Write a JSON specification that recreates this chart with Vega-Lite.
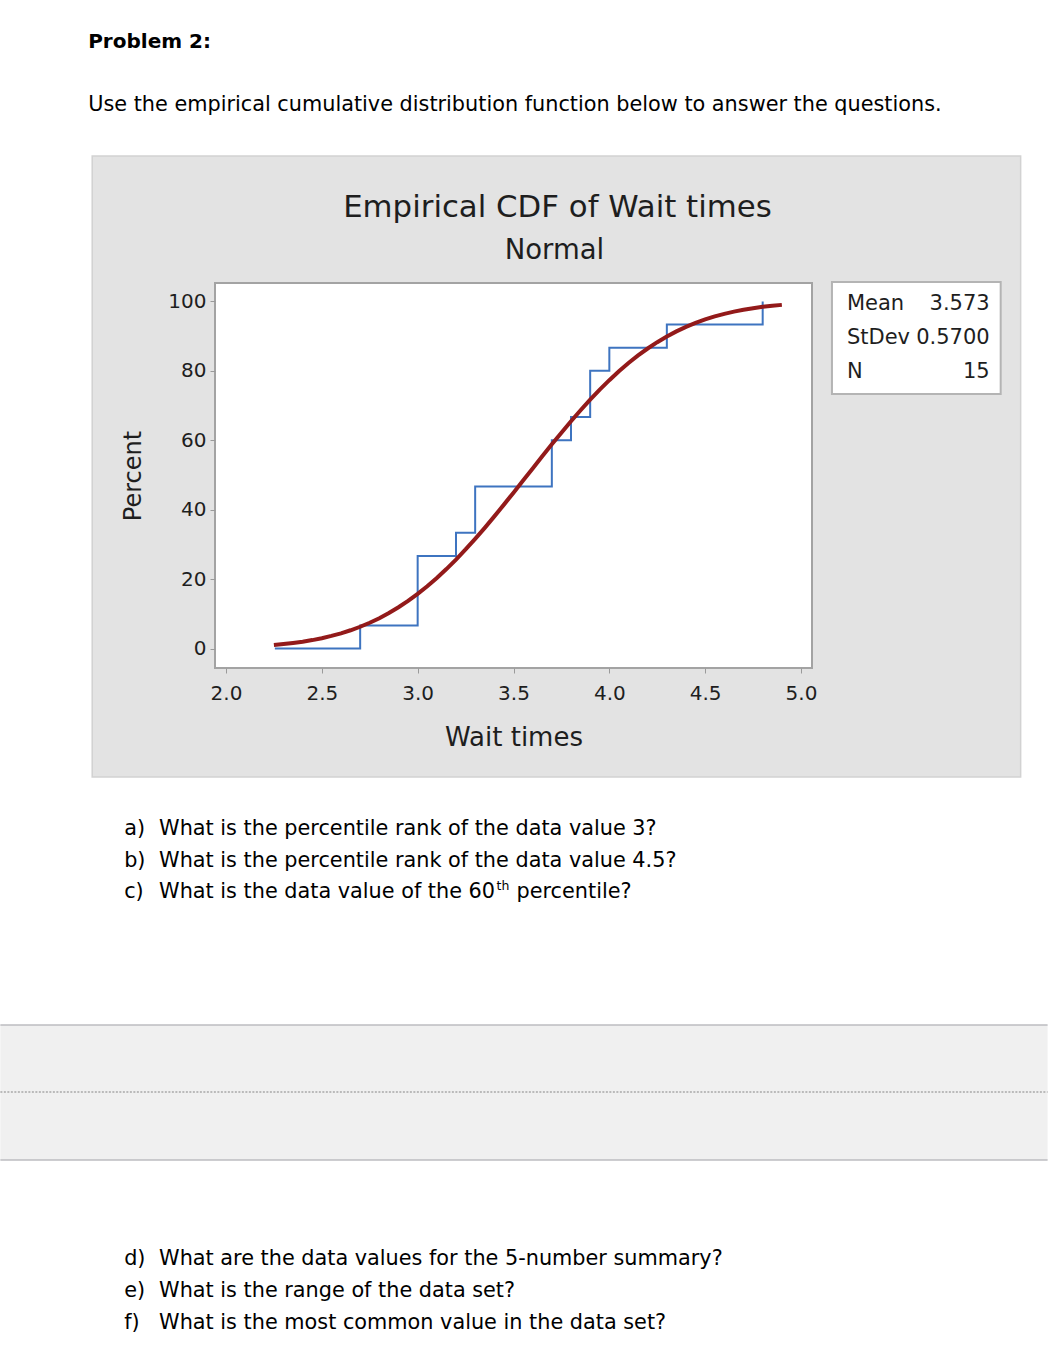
{
  "$schema": "https://vega.github.io/schema/vega-lite/v6.json",
  "width": 597,
  "height": 385,
  "autosize": {"type": "none"},
  "padding": {"left": 215, "top": 283, "right": 237, "bottom": 680},
  "background": "white",
  "config": {"view": {"stroke": null}, "font": "DejaVu Sans"},
  "resolve": {"axis": {"x": "shared", "y": "shared"}},
  "datasets": {
    "ecdf": [
      {"x": 2.255, "p": 0},
      {"x": 2.7, "p": 6.667},
      {"x": 3.0, "p": 26.667},
      {"x": 3.2, "p": 33.333},
      {"x": 3.3, "p": 46.667},
      {"x": 3.7, "p": 60},
      {"x": 3.8, "p": 66.667},
      {"x": 3.9, "p": 80},
      {"x": 4.0, "p": 86.667},
      {"x": 4.3, "p": 93.333},
      {"x": 4.8, "p": 100}
    ],
    "fit": [
      {"x": 2.25, "p": 1.01}, {"x": 2.30, "p": 1.28}, {"x": 2.35, "p": 1.60}, {"x": 2.40, "p": 1.98},
      {"x": 2.45, "p": 2.44}, {"x": 2.50, "p": 2.99}, {"x": 2.55, "p": 3.64}, {"x": 2.60, "p": 4.39},
      {"x": 2.65, "p": 5.27}, {"x": 2.70, "p": 6.28}, {"x": 2.75, "p": 7.44}, {"x": 2.80, "p": 8.75},
      {"x": 2.85, "p": 10.23}, {"x": 2.90, "p": 11.89}, {"x": 2.95, "p": 13.72}, {"x": 3.00, "p": 15.74},
      {"x": 3.05, "p": 17.94}, {"x": 3.10, "p": 20.33}, {"x": 3.15, "p": 22.90}, {"x": 3.20, "p": 25.64},
      {"x": 3.25, "p": 28.55}, {"x": 3.30, "p": 31.60}, {"x": 3.35, "p": 34.78}, {"x": 3.40, "p": 38.08},
      {"x": 3.45, "p": 41.46}, {"x": 3.50, "p": 44.90}, {"x": 3.55, "p": 48.39}, {"x": 3.60, "p": 51.89},
      {"x": 3.65, "p": 55.37}, {"x": 3.70, "p": 58.82}, {"x": 3.75, "p": 62.19}, {"x": 3.80, "p": 65.48},
      {"x": 3.85, "p": 68.65}, {"x": 3.90, "p": 71.69}, {"x": 3.95, "p": 74.58}, {"x": 4.00, "p": 77.31},
      {"x": 4.05, "p": 79.86}, {"x": 4.10, "p": 82.24}, {"x": 4.15, "p": 84.43}, {"x": 4.20, "p": 86.43},
      {"x": 4.25, "p": 88.25}, {"x": 4.30, "p": 89.89}, {"x": 4.35, "p": 91.36}, {"x": 4.40, "p": 92.66},
      {"x": 4.45, "p": 93.81}, {"x": 4.50, "p": 94.81}, {"x": 4.55, "p": 95.67}, {"x": 4.60, "p": 96.42},
      {"x": 4.65, "p": 97.06}, {"x": 4.70, "p": 97.60}, {"x": 4.75, "p": 98.05}, {"x": 4.80, "p": 98.43},
      {"x": 4.85, "p": 98.75}, {"x": 4.90, "p": 99.00}
    ]
  },
  "layer": [
    {
      "data": {"values": [{}]},
      "mark": {"type": "rect", "fill": "#f0f0f0"},
      "encoding": {
        "x": {"datum": 0.82291}, "x2": {"datum": 6.28645},
        "y": {"datum": -108.435}, "y2": {"datum": -147.322}
      }
    },
    {
      "data": {"values": [{}]},
      "mark": {"type": "rule", "stroke": "#bcbcc0", "strokeWidth": 1.5},
      "encoding": {
        "x": {"datum": 0.82291}, "x2": {"datum": 6.28645},
        "y": {"datum": -108.435}
      }
    },
    {
      "data": {"values": [{}]},
      "mark": {"type": "rule", "stroke": "#bcbcc0", "strokeWidth": 1.5},
      "encoding": {
        "x": {"datum": 0.82291}, "x2": {"datum": 6.28645},
        "y": {"datum": -147.322}
      }
    },
    {
      "data": {"values": [{}]},
      "mark": {"type": "rule", "stroke": "#a8a8a8", "strokeWidth": 1.5, "strokeDash": [2, 1.5]},
      "encoding": {
        "x": {"datum": 0.82291}, "x2": {"datum": 6.28645},
        "y": {"datum": -127.734}
      }
    },
    {
      "data": {"values": [{}]},
      "mark": {"type": "rect", "fill": "#e3e3e3", "stroke": "#d2d2d2", "strokeWidth": 1.5},
      "encoding": {
        "x": {"datum": 1.302075}, "x2": {"datum": 6.145825},
        "y": {"datum": 141.883}, "y2": {"datum": -36.998}
      }
    },
    {
      "data": {"values": [{}]},
      "mark": {"type": "rect", "fill": "#ffffff", "stroke": "#a3a3a3", "strokeWidth": 2},
      "encoding": {
        "x": {"datum": 1.9427}, "x2": {"datum": 5.0573},
        "y": {"datum": -5.6}, "y2": {"datum": 105.3}
      }
    },
    {
      "data": {"values": [{}]},
      "mark": {"type": "rect", "fill": "#ffffff", "stroke": "#b4b4b4", "strokeWidth": 2},
      "encoding": {
        "x": {"datum": 5.16145}, "x2": {"datum": 6.04166},
        "y": {"datum": 105.588}, "y2": {"datum": 73.326}
      }
    },
    {
      "data": {"name": "ecdf"},
      "mark": {"type": "line", "interpolate": "step-after", "color": "#3e74c0", "strokeWidth": 2},
      "encoding": {
        "x": {
          "field": "x", "type": "quantitative",
          "scale": {"domain": [1.9427, 5.0573], "nice": false, "zero": false},
          "axis": {
            "values": [2, 2.5, 3, 3.5, 4, 4.5, 5], "format": ".1f", "title": "Wait times",
            "domain": false, "grid": false, "ticks": true, "tickSize": 5, "tickColor": "#9a9a9a", "tickWidth": 1,
            "labels": true, "labelFont": "DejaVu Sans", "labelFontSize": 20, "labelColor": "#1e1e1e", "labelPadding": 10,
            "labelFlush": false, "labelOverlap": false,
            "titleFont": "DejaVu Sans", "titleFontSize": 26, "titleFontWeight": "normal", "titleColor": "#1e1e1e",
            "titlePadding": 21, "zindex": 2
          }
        },
        "y": {
          "field": "p", "type": "quantitative",
          "scale": {"domain": [-5.6, 105.3], "nice": false, "zero": false},
          "axis": {
            "values": [0, 20, 40, 60, 80, 100], "title": "Percent",
            "domain": false, "grid": false, "ticks": true, "tickSize": 5, "tickColor": "#9a9a9a", "tickWidth": 1,
            "labels": true, "labelFont": "DejaVu Sans", "labelFontSize": 20, "labelColor": "#1e1e1e", "labelPadding": 4,
            "labelFlush": false, "labelOverlap": false,
            "titleFont": "DejaVu Sans", "titleFontSize": 24, "titleFontWeight": "normal", "titleColor": "#1e1e1e",
            "titlePadding": 22, "zindex": 2
          }
        }
      }
    },
    {
      "data": {"name": "fit"},
      "mark": {"type": "line", "color": "#931a1a", "strokeWidth": 4},
      "encoding": {
        "x": {"field": "x", "type": "quantitative"},
        "y": {"field": "p", "type": "quantitative"}
      }
    },
    {
      "data": {"values": [{}]},
      "mark": {"type": "text", "text": "Problem 2:", "font": "DejaVu Sans", "fontSize": 20, "fontWeight": "bold", "align": "left", "baseline": "alphabetic", "color": "#000000"},
      "encoding": {"x": {"datum": 1.28124}, "y": {"datum": 172.906}}
    },
    {
      "data": {"values": [{}]},
      "mark": {"type": "text", "text": "Use the empirical cumulative distribution function below to answer the questions.", "font": "DejaVu Sans", "fontSize": 20.8, "align": "left", "baseline": "alphabetic", "color": "#000000"},
      "encoding": {"x": {"datum": 1.28124}, "y": {"datum": 154.931}}
    },
    {
      "data": {"values": [{}]},
      "mark": {"type": "text", "text": "Empirical CDF of Wait times", "font": "DejaVu Sans", "fontSize": 30.8, "align": "center", "baseline": "alphabetic", "color": "#1e1e1e"},
      "encoding": {"x": {"datum": 3.72916}, "y": {"datum": 124.311}}
    },
    {
      "data": {"values": [{}]},
      "mark": {"type": "text", "text": "Normal", "font": "DejaVu Sans", "fontSize": 27.5, "align": "center", "baseline": "alphabetic", "color": "#1e1e1e"},
      "encoding": {"x": {"datum": 3.7136}, "y": {"datum": 112.213}}
    },
    {
      "data": {"values": [{}]},
      "mark": {"type": "text", "text": ["Mean", "StDev", "N"], "lineHeight": 34, "font": "DejaVu Sans", "fontSize": 21, "align": "left", "baseline": "alphabetic", "color": "#1e1e1e"},
      "encoding": {"x": {"datum": 5.23958}, "y": {"datum": 97.379}}
    },
    {
      "data": {"values": [{}]},
      "mark": {"type": "text", "text": ["3.573", "0.5700", "15"], "lineHeight": 34, "font": "DejaVu Sans", "fontSize": 21, "align": "right", "baseline": "alphabetic", "color": "#1e1e1e"},
      "encoding": {"x": {"datum": 5.98437}, "y": {"datum": 97.379}}
    },
    {
      "data": {"values": [{}]},
      "mark": {"type": "text", "text": ["a)", "b)", "c)"], "lineHeight": 31.5, "font": "DejaVu Sans", "fontSize": 20.8, "align": "left", "baseline": "alphabetic", "color": "#000000"},
      "encoding": {"x": {"datum": 1.46874}, "y": {"datum": -53.705}}
    },
    {
      "data": {"values": [{}]},
      "mark": {"type": "text", "text": ["What is the percentile rank of the data value 3?", "What is the percentile rank of the data value 4.5?", "What is the data value of the 60"], "lineHeight": 31.5, "font": "DejaVu Sans", "fontSize": 20.8, "align": "left", "baseline": "alphabetic", "color": "#000000"},
      "encoding": {"x": {"datum": 1.65103}, "y": {"datum": -53.705}}
    },
    {
      "data": {"values": [{}]},
      "mark": {"type": "text", "text": "th", "font": "DejaVu Sans", "fontSize": 12.5, "align": "left", "baseline": "alphabetic", "color": "#000000"},
      "encoding": {"x": {"datum": 3.41145}, "y": {"datum": -69.548}}
    },
    {
      "data": {"values": [{}]},
      "mark": {"type": "text", "text": "percentile?", "font": "DejaVu Sans", "fontSize": 20.8, "align": "left", "baseline": "alphabetic", "color": "#000000"},
      "encoding": {"x": {"datum": 3.51562}, "y": {"datum": -71.852}}
    },
    {
      "data": {"values": [{}]},
      "mark": {"type": "text", "text": ["d)", "e)", "f)"], "lineHeight": 32, "font": "DejaVu Sans", "fontSize": 20.8, "align": "left", "baseline": "alphabetic", "color": "#000000"},
      "encoding": {"x": {"datum": 1.46874}, "y": {"datum": -177.567}}
    },
    {
      "data": {"values": [{}]},
      "mark": {"type": "text", "text": ["What are the data values for the 5-number summary?", "What is the range of the data set?", "What is the most common value in the data set?"], "lineHeight": 32, "font": "DejaVu Sans", "fontSize": 20.8, "align": "left", "baseline": "alphabetic", "color": "#000000"},
      "encoding": {"x": {"datum": 1.65103}, "y": {"datum": -177.567}}
    }
  ]
}
